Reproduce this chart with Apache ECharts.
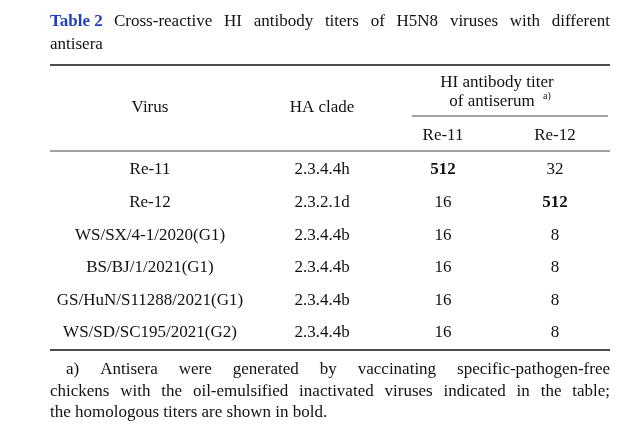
<!DOCTYPE html>
<html><head><meta charset="utf-8">
<script src="https://cdn.jsdelivr.net/npm/echarts@6/dist/echarts.min.js"></script>
<style>html,body{margin:0;background:#fff}#c{width:641px;height:428px}</style>
</head><body><div id="c"></div>
<script>
var viruses = ['Re-11', 'Re-12', 'WS/SX/4-1/2020(G1)', 'BS/BJ/1/2021(G1)', 'GS/HuN/S11288/2021(G1)', 'WS/SD/SC195/2021(G2)'];
var clades = ['2.3.4.4h', '2.3.2.1d', '2.3.4.4b', '2.3.4.4b', '2.3.4.4b', '2.3.4.4b'];
var re11 = [512, 16, 16, 16, 16, 16];
var re12 = [32, 512, 8, 8, 8, 8];
var homologous = [[0, 0], [1, 1]];
var footLines = [
  'a) Antisera were generated by vaccinating specific-pathogen-free',
  'chickens with the oil-emulsified inactivated viruses indicated in the table;',
  'the homologous titers are shown in bold.'
];

var chart = echarts.init(document.getElementById('c'));
var F = '"Liberation Serif", "DejaVu Serif", serif';
var ctx = document.createElement('canvas').getContext('2d');
var g = [];
function font(opt) { return (opt.bold ? 'bold ' : '') + (opt.size || 17) + 'px ' + F; }
function txt(x, y, s, opt) {
  opt = opt || {};
  g.push({ type: 'text', x: x, y: y, style: { text: s, font: font(opt),
    fill: opt.color || '#111', align: opt.align || 'center', verticalAlign: 'middle' } });
}
// justified line from x1 to x2
function just(x1, x2, y, s, opt) {
  opt = opt || {};
  ctx.font = font(opt);
  var words = s.split(' ');
  var tot = words.reduce(function (a, w) { return a + ctx.measureText(w).width; }, 0);
  var gap = (x2 - x1 - tot) / (words.length - 1);
  var x = x1;
  words.forEach(function (w) {
    txt(x, y, w, { align: 'left', size: opt.size });
    x += ctx.measureText(w).width + gap;
  });
}
function rule(x1, x2, y, w) {
  g.push({ type: 'line', shape: { x1: x1, y1: y, x2: x2, y2: y }, style: { stroke: '#111', lineWidth: w } });
}
txt(50, 22, 'Table 2', { bold: true, color: '#1f3fbf', align: 'left' });
just(114, 610, 22, 'Cross-reactive HI antibody titers of H5N8 viruses with different');
txt(50, 45, 'antisera', { align: 'left' });
rule(50, 610, 65, 1.6);
txt(150, 108, 'Virus');
txt(322, 108, 'HA clade');
txt(497, 83, 'HI antibody titer');
txt(492, 102, 'of antiserum');
txt(547, 96, 'a)', { size: 10 });
rule(412, 608, 116, 0.8);
txt(443, 136, 'Re-11');
txt(555, 136, 'Re-12');
rule(50, 610, 151, 0.8);
var rowY = [170, 203, 236, 268, 301, 333];
viruses.forEach(function (v, i) {
  txt(150, rowY[i], v);
  txt(322, rowY[i], clades[i]);
  var b11 = homologous.some(function (h) { return h[0] === i && h[1] === 0; });
  var b12 = homologous.some(function (h) { return h[0] === i && h[1] === 1; });
  txt(443, rowY[i], String(re11[i]), { bold: b11 });
  txt(555, rowY[i], String(re12[i]), { bold: b12 });
});
rule(50, 610, 350, 1.6);
just(66, 610, 370, footLines[0]);
just(50, 610, 392, footLines[1]);
txt(50, 413, footLines[2], { align: 'left' });

chart.setOption({ animation: false, graphic: g });
</script></body></html>
